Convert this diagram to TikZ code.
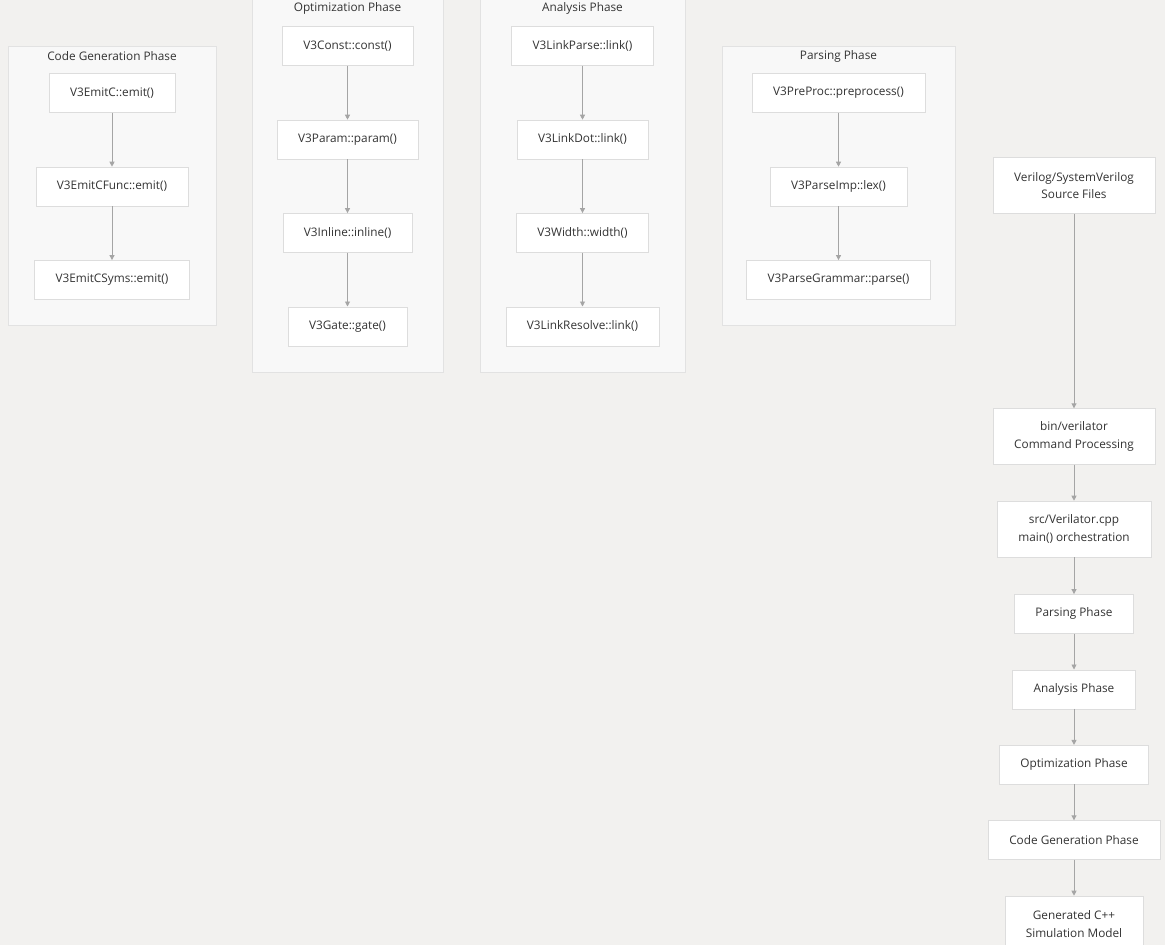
\documentclass[tikz,border=0pt]{standalone}
\usepackage{fontspec}
\setmainfont{Open Sans}
\usetikzlibrary{positioning,arrows.meta}

\definecolor{bg}{HTML}{F2F1EF}
\definecolor{clusterfill}{HTML}{F8F8F8}
\definecolor{clusterline}{HTML}{E2E2E2}
\definecolor{boxline}{HTML}{DDDDDD}
\definecolor{flowline}{HTML}{A5A5A5}
\definecolor{txt}{HTML}{333333}

\begin{document}
\begin{tikzpicture}[x=1pt,y=-1pt,node distance=54pt,
  every node/.style={font=\fontsize{11.8}{17.5}\selectfont,text=txt},
  fn/.style={draw=boxline,fill=white,minimum height=39pt,inner xsep=21pt,align=center},
  tallfn/.style={fn,minimum height=56pt},
  cluster/.style={draw=clusterline,fill=clusterfill},
  flow/.style={draw=flowline,line width=0.9pt,-{Triangle[width=5pt,length=5pt]}}]
\useasboundingbox (0,0) rectangle (1165,945);
\clip (0,0) rectangle (1165,945);
\fill[bg] (0,0) rectangle (1165,945);

% phase boxes
\draw[cluster] (8,46) rectangle (216,325);
\node (cgtitle) at (112,56.5) {Code Generation Phase};
\draw[cluster] (252,-3) rectangle (443,372);
\node (optitle) at (347.5,8.5) {Optimization Phase};
\draw[cluster] (480,-3) rectangle (685,372);
\node (antitle) at (582.5,8.5) {Analysis Phase};
\draw[cluster] (722,46) rectangle (955,325);
\node (pstitle) at (838.5,56.5) {Parsing Phase};

% code generation
\node[fn] (emitc) at (112,93) {V3EmitC::emit()};
\node[fn,below=of emitc] (emitcfunc) {V3EmitCFunc::emit()};
\node[fn,below=of emitcfunc] (emitcsyms) {V3EmitCSyms::emit()};

% optimization
\node[fn] (const) at (347.5,46) {V3Const::const()};
\node[fn,below=of const] (param) {V3Param::param()};
\node[fn,below=of param] (inline) {V3Inline::inline()};
\node[fn,below=of inline] (gate) {V3Gate::gate()};

% analysis
\node[fn] (linkparse) at (582.5,46) {V3LinkParse::link()};
\node[fn,below=of linkparse] (linkdot) {V3LinkDot::link()};
\node[fn,below=of linkdot] (width) {V3Width::width()};
\node[fn,below=of width] (linkresolve) {V3LinkResolve::link()};

% parsing
\node[fn] (preproc) at (838.5,93) {V3PreProc::preprocess()};
\node[fn,below=of preproc] (lex) {V3ParseImp::lex()};
\node[fn,below=of lex] (grammar) {V3ParseGrammar::parse()};

% main flow
\node[tallfn] (sources) at (1074,185.5) {Verilog/SystemVerilog\\Source Files};
\node[tallfn] (binver) at (1074,436.5) {bin/verilator\\Command Processing};
\node[tallfn,below=36pt of binver] (mainorch) {src/Verilator.cpp\\main() orchestration};
\node[fn,below=37pt of mainorch] (parsing) {Parsing Phase};
\node[fn,below=36pt of parsing] (analysis) {Analysis Phase};
\node[fn,below=36pt of analysis] (optim) {Optimization Phase};
\node[fn,below=36pt of optim] (codegen) {Code Generation Phase};
\node[tallfn,below=36pt of codegen] (generated) {Generated C++\\Simulation Model};

\draw[flow] (emitc) -- (emitcfunc);
\draw[flow] (emitcfunc) -- (emitcsyms);
\draw[flow] (const) -- (param);
\draw[flow] (param) -- (inline);
\draw[flow] (inline) -- (gate);
\draw[flow] (linkparse) -- (linkdot);
\draw[flow] (linkdot) -- (width);
\draw[flow] (width) -- (linkresolve);
\draw[flow] (preproc) -- (lex);
\draw[flow] (lex) -- (grammar);
\draw[flow] (sources) -- (binver);
\draw[flow] (binver) -- (mainorch);
\draw[flow] (mainorch) -- (parsing);
\draw[flow] (parsing) -- (analysis);
\draw[flow] (analysis) -- (optim);
\draw[flow] (optim) -- (codegen);
\draw[flow] (codegen) -- (generated);
\end{tikzpicture}
\end{document}
